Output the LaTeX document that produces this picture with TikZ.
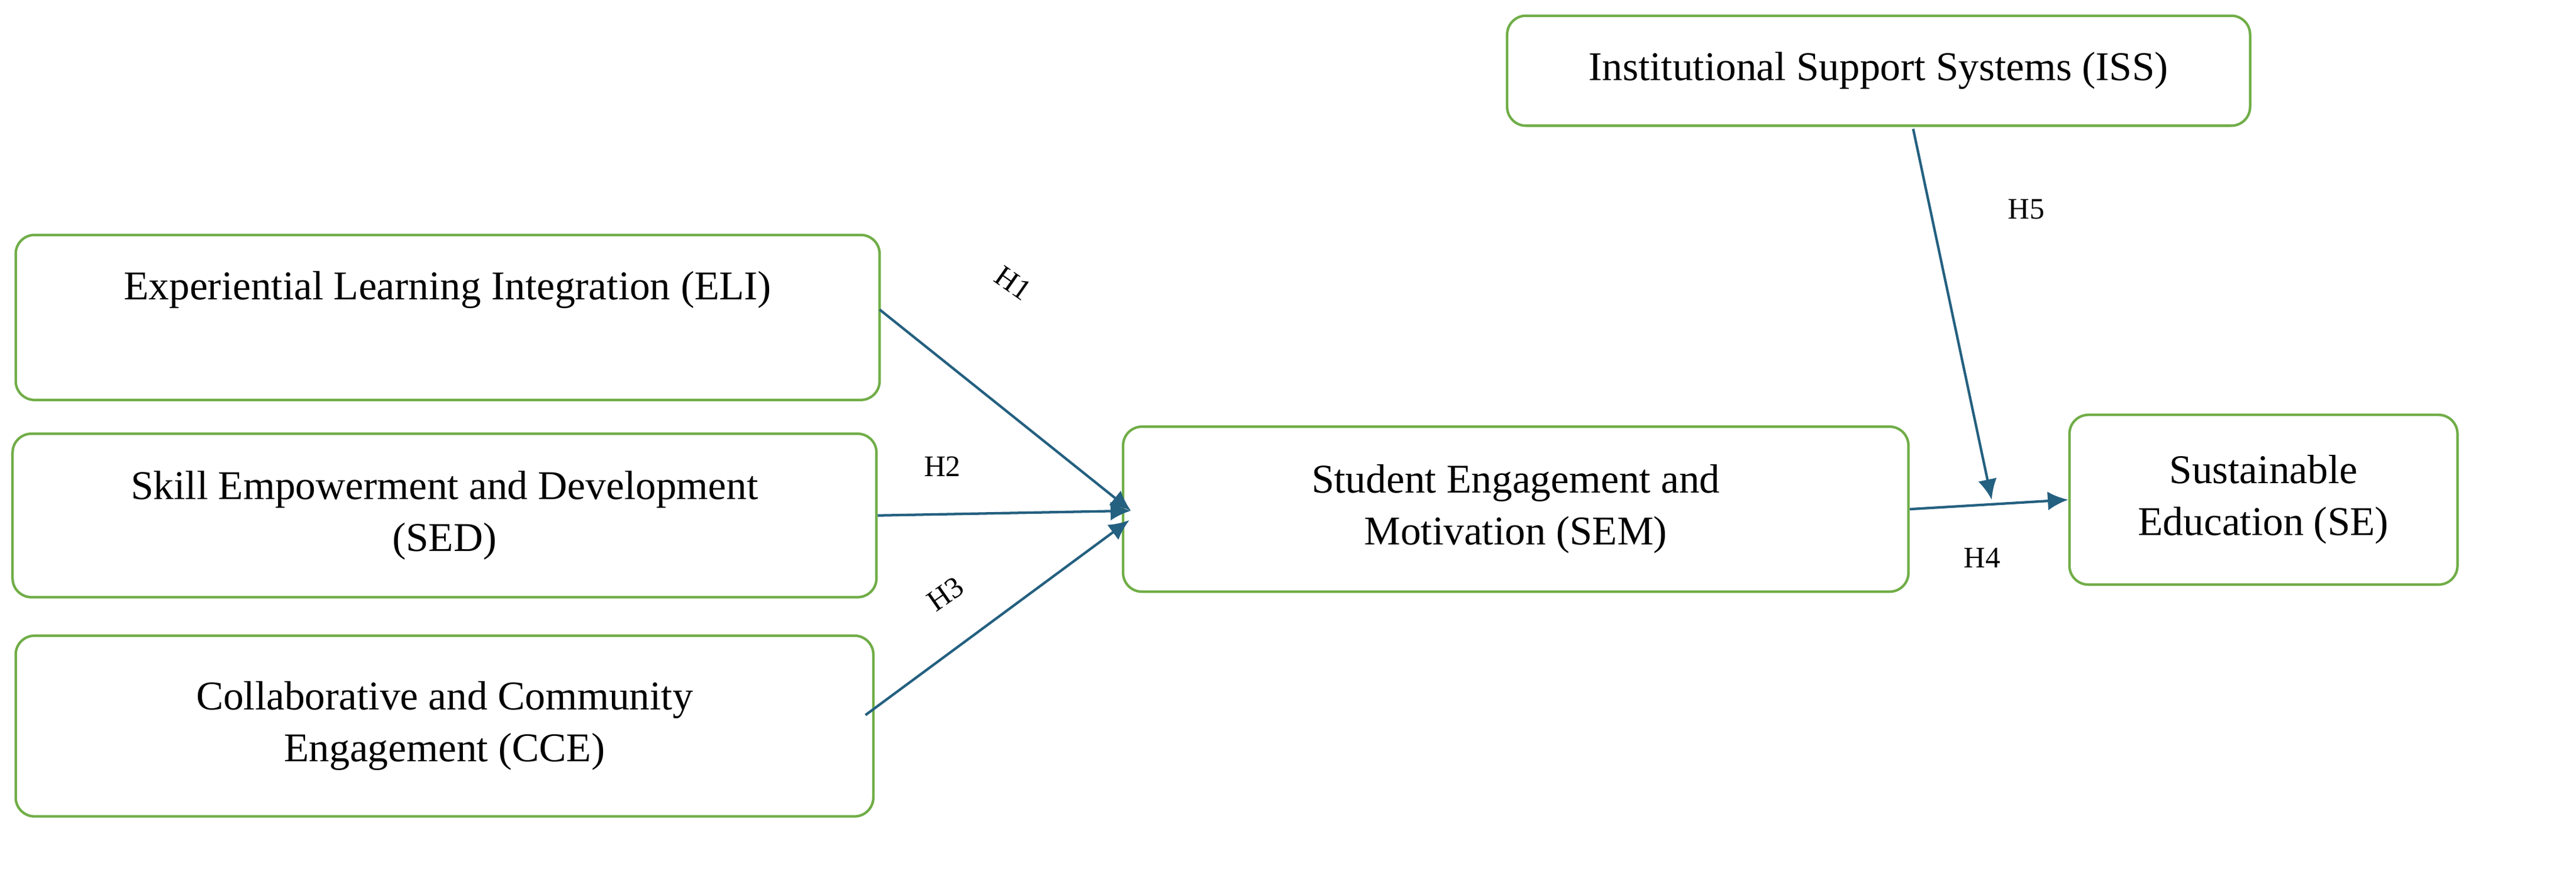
\documentclass[tikz,border=0pt]{standalone}
\usepackage{fontspec}
\setmainfont{Liberation Serif}
\usetikzlibrary{arrows.meta}
\begin{document}
\begin{tikzpicture}[x=1pt,y=-1pt,
  box/.style={draw=boxgreen,line width=1.6pt,rounded corners=12pt,align=center,font=\fontsize{26}{33}\selectfont,inner sep=0pt},
  arr/.style={draw=arrblue,line width=1.6pt,-{Latex[length=13pt,width=12pt]}},
  lab/.style={font=\fontsize{19}{22}\selectfont,inner sep=0pt}]
\definecolor{boxgreen}{RGB}{112,173,71}
\definecolor{arrblue}{RGB}{36,96,128}
\useasboundingbox (0,0) rectangle (1640,556.5);
\node[box,minimum width=550pt,minimum height=105pt] (eli) at (285,202) {Experiential Learning Integration (ELI)\\[8pt]};
\node[box,minimum width=550pt,minimum height=104pt] (sed) at (283,328) {Skill Empowerment and Development\\(SED)};
\node[box,minimum width=546pt,minimum height=115pt] (cce) at (283,462) {Collaborative and Community\\Engagement (CCE)};
\node[box,minimum width=500pt,minimum height=105pt] (sem) at (965,324) {Student Engagement and\\Motivation (SEM)};
\node[box,minimum width=247pt,minimum height=108pt] (se) at (1441,318) {Sustainable\\Education (SE)};
\node[box,minimum width=473pt,minimum height=70pt] (iss) at (1196,45) {Institutional Support Systems (ISS)};
\coordinate (t) at (720,325);
\draw[arr] (560,197) -- (t);
\draw[arr] (sed.east) -- (t);
\draw[arr] (551,455) -- (719,331);
\draw[arr] (sem.east) -- (se.west);
\coordinate (j) at (1268,318);
\draw[arr] (1218,82) -- (j);
\node[lab,rotate=-35] at (645,180) {H1};
\node[lab] at (600,297) {H2};
\node[lab,rotate=35] at (602,378) {H3};
\node[lab] at (1262,355) {H4};
\node[lab] at (1290,133) {H5};
\end{tikzpicture}
\end{document}
